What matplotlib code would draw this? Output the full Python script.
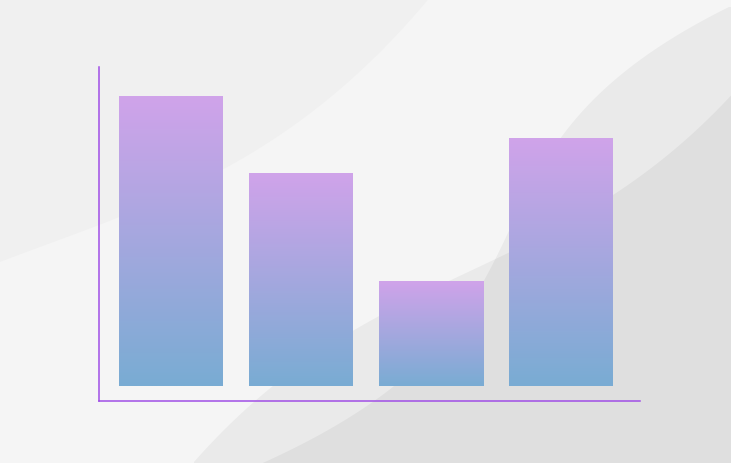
import numpy as np
import matplotlib
matplotlib.use("Agg")
import matplotlib.pyplot as plt
from matplotlib.patches import Polygon

# ---- data ----
categories = ["A", "B", "C", "D"]
values = [58, 42.6, 21, 49.6]

W, H = 731, 464
fig = plt.figure(figsize=(W / 100, H / 100), dpi=100)

# ---- decorative background (pixel coords) ----
bg = fig.add_axes([0, 0, 1, 1], zorder=0)
bg.set_xlim(0, W)
bg.set_ylim(H, 0)
bg.axis("off")
bg.add_patch(Polygon([(0, 0), (W, 0), (W, H), (0, H)], closed=True,
                     facecolor="#f0f0f0", edgecolor="none"))


def smooth_fn(px, py, deg, t):
    c = np.polyfit(px, py, deg)
    return np.polyval(c, t)


# light band boundary y(x)
l1x = [0, 119, 223, 280, 380, 429]
l1y = [263, 218, 170, 137, 52, 0]
xs = np.linspace(0, 429, 200)
ys = smooth_fn(l1x, l1y, 3, xs)
poly = np.vstack([np.c_[xs, ys], [(W, 0), (W, H), (0, H)]])
bg.add_patch(Polygon(poly, closed=True, facecolor="#f5f5f5", edgecolor="none"))

# shape 1 boundary x(y)
s1y = [8, 32, 70, 110, 137, 228, 284, 387, 464]
s1x = [731, 680, 630, 587, 560, 509, 485, 393, 263]
yy = np.linspace(8, 464, 200)
xx = smooth_fn(s1y, s1x, 3, yy)
poly = np.vstack([np.c_[xx, yy], [(W + 2, H + 2), (W + 2, 8)]])
bg.add_patch(Polygon(poly, closed=True, facecolor="black", alpha=0.045, edgecolor="none"))

# shape 2 boundary y(x)
s2x = [194, 270, 353, 379, 455, 509, 613, 680, 731]
s2y = [464, 387, 332, 318, 280, 253, 197, 143, 98]
xs2 = np.linspace(194, 731, 200)
ys2 = smooth_fn(s2x, s2y, 3, xs2)
poly = np.vstack([np.c_[xs2, ys2], [(W + 2, 98), (W + 2, H + 2), (194, H + 2)]])
bg.add_patch(Polygon(poly, closed=True, facecolor="black", alpha=0.045, edgecolor="none"))

# ---- chart axes ----
ax = fig.add_axes([99 / W, (H - 402) / H, (640 - 99) / W, (402 - 68) / H], zorder=1)
ax.patch.set_alpha(0)
x = np.arange(len(categories))
xlim = (-0.55, -0.55 + 541 / 130)
base = -3.1
ylim = (base, base + 334 / 5.0)

bar_w = 104 / 130
top_c = np.array([208, 163, 234]) / 255
bot_c = np.array([121, 172, 211]) / 255
grad = np.linspace(0, 1, 256)[:, None]
img = top_c[None, None, :] * (1 - grad[:, :, None]) + bot_c[None, None, :] * grad[:, :, None]

bars = ax.bar(x, values, width=bar_w, color="none", edgecolor="none")
for b in bars:
    x0, w = b.get_x(), b.get_width()
    h = b.get_height()
    ax.imshow(img, extent=[x0, x0 + w, 0, h], origin="upper", aspect="auto", zorder=2,
              interpolation="bilinear")
ax.set_xlim(*xlim)
ax.set_ylim(*ylim)

for s in ["top", "right"]:
    ax.spines[s].set_visible(False)
for s in ["left", "bottom"]:
    ax.spines[s].set_color("#a04ee6")
    ax.spines[s].set_linewidth(1.1)
ax.set_xticks([])
ax.set_yticks([])

fig.savefig("out.png", dpi=100)
